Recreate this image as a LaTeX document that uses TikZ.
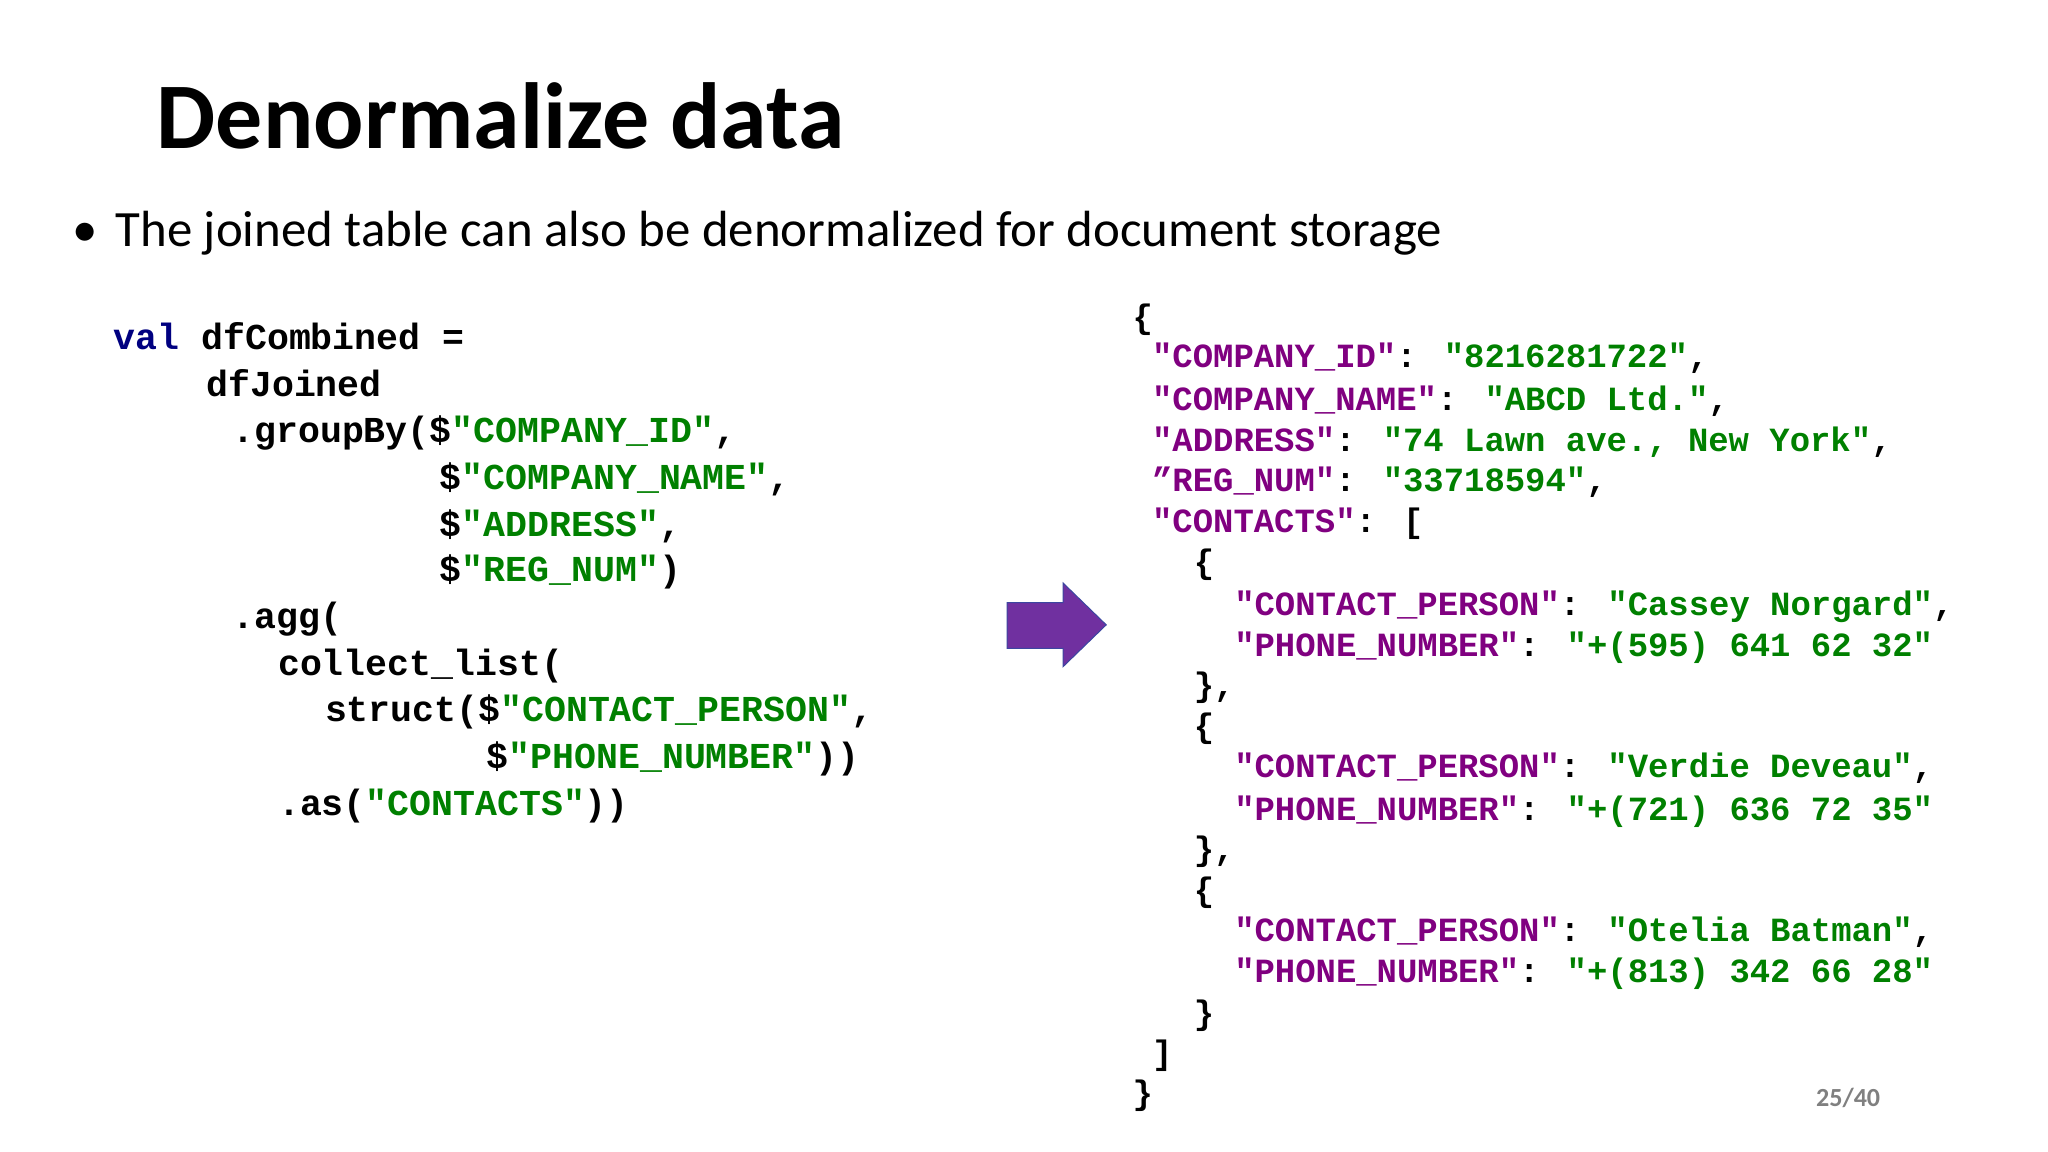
\documentclass[tikz,border=0pt]{standalone}
\usepackage{fontspec}
\setmainfont{Carlito}
\newfontfamily\lcode[Scale=1]{Liberation Mono}
\definecolor{kw}{RGB}{0,0,128}
\definecolor{str}{RGB}{0,128,0}
\definecolor{key}{RGB}{128,0,128}
\definecolor{arr}{RGB}{112,48,160}
\definecolor{arrb}{RGB}{60,70,160}
\tikzset{
  lc/.style={anchor=base west,inner sep=0pt,font=\lcode\bfseries\fontsize{28}{30}\selectfont},
  rc/.style={anchor=base west,inner sep=0pt,font=\lcode\bfseries\fontsize{26}{28}\selectfont},
}
\newcommand{\G}[1]{\textcolor{str}{#1}}
\newcommand{\K}[1]{\textcolor{key}{#1}}
\begin{document}
\begin{tikzpicture}[x=1pt,y=-1pt]
\useasboundingbox (0,0) rectangle (1570,883);
\node[anchor=base west,inner sep=0pt,font=\bfseries\fontsize{72}{76}\selectfont] (title) at (120,114) {Denormalize data};
\node[anchor=base west,inner sep=0pt,font=\fontsize{39}{44}\selectfont] (bul) at (55,189) {\textbullet\hspace{14pt}The joined table can also be denormalized for document storage};
% left code
\node[lc] (l1) at (87,268) {\textcolor{kw}{val} dfCombined =};
\node[lc] (l2) at (158,304) {dfJoined};
\node[lc] (l3) at (178,339) {.groupBy(\$\G{"COMPANY\_ID"},};
\node[lc] (l4) at (337,375) {\$\G{"COMPANY\_NAME"},};
\node[lc] (l5) at (337,411) {\$\G{"ADDRESS"},};
\node[lc] (l6) at (337,446) {\$\G{"REG\_NUM"})};
\node[lc] (l7) at (178,482) {.agg(};
\node[lc] (l8) at (213,518) {collect\_list(};
\node[lc] (l9) at (249,553) {struct(\$\G{"CONTACT\_PERSON"},};
\node[lc] (l10) at (373,589) {\$\G{"PHONE\_NUMBER"}))};
\node[lc] (l11) at (213,625) {.as(\G{"CONTACTS"}))};
% arrow
\draw[arrb,fill=arr,line width=0.8pt] (772,462) -- (815,462) -- (815,447) -- (848,479) -- (815,511) -- (815,497) -- (772,497) -- cycle;
% right code
\node[rc] (r1) at (868,252) {\{};
\node[rc] (r2) at (883,282) {\K{"COMPANY\_ID"}: \G{"8216281722"},};
\node[rc] (r3) at (883,315) {\K{"COMPANY\_NAME"}: \G{"ABCD Ltd."},};
\node[rc] (r4) at (883,346) {\K{"ADDRESS"}: \G{"74 Lawn ave., New York"},};
\node[rc] (r5) at (883,377) {\K{”REG\_NUM"}: \G{"33718594"},};
\node[rc] (r6) at (883,408) {\K{"CONTACTS"}: [};
\node[rc] (r7) at (915,440) {\{};
\node[rc] (r8) at (946,472) {\K{"CONTACT\_PERSON"}: \G{"Cassey Norgard"},};
\node[rc] (r9) at (946,503) {\K{"PHONE\_NUMBER"}: \G{"+(595) 641 62 32"}};
\node[rc] (r10) at (915,534) {\},};
\node[rc] (r11) at (915,565) {\{};
\node[rc] (r12) at (946,596) {\K{"CONTACT\_PERSON"}: \G{"Verdie Deveau"},};
\node[rc] (r13) at (946,629) {\K{"PHONE\_NUMBER"}: \G{"+(721) 636 72 35"}};
\node[rc] (r14) at (915,660) {\},};
\node[rc] (r15) at (915,691) {\{};
\node[rc] (r16) at (946,722) {\K{"CONTACT\_PERSON"}: \G{"Otelia Batman"},};
\node[rc] (r17) at (946,753) {\K{"PHONE\_NUMBER"}: \G{"+(813) 342 66 28"}};
\node[rc] (r18) at (915,785) {\}};
\node[rc] (r19) at (883,816) {]};
\node[rc] (r20) at (868,847) {\}};
\node[anchor=base west,inner sep=0pt,text=gray,font=\bfseries\fontsize{20}{22}\selectfont] (pg) at (1392,848) {25/40};
\end{tikzpicture}
\end{document}
